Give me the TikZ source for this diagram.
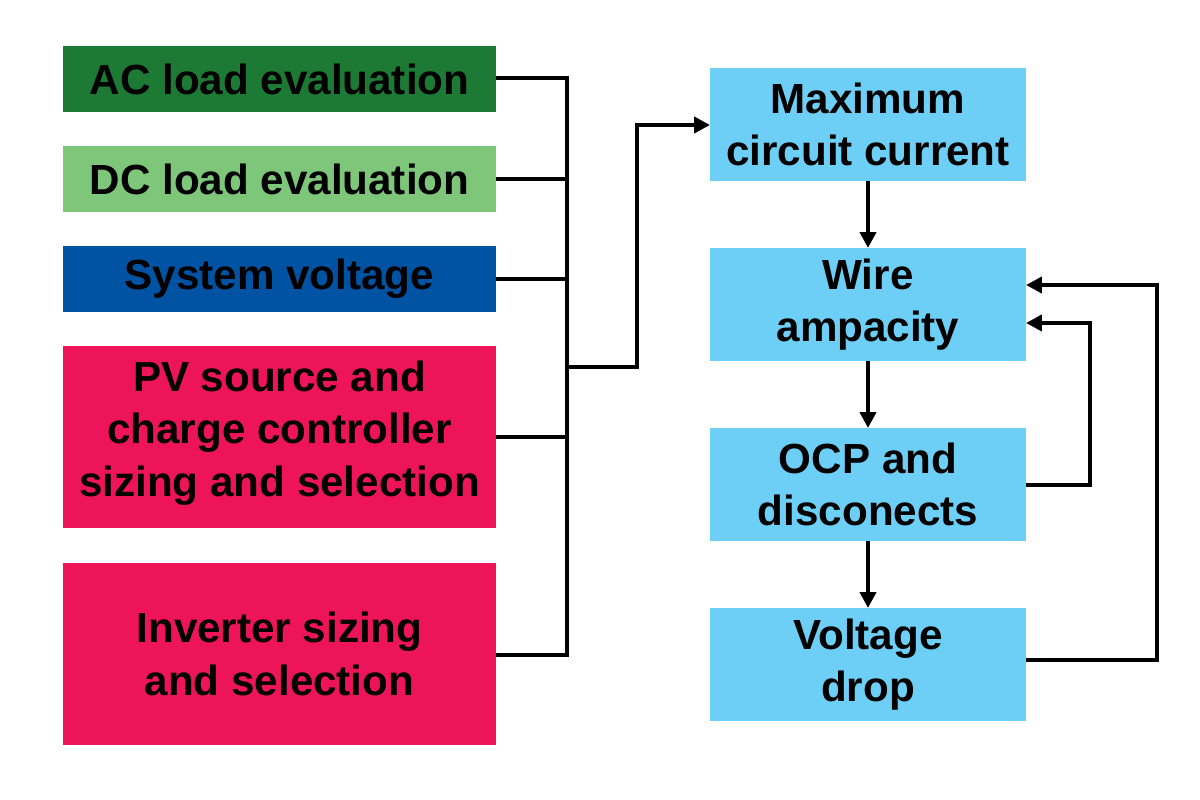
\documentclass[tikz,border=0pt]{standalone}
\usepackage{fontspec}
\setmainfont{Liberation Sans}
\usetikzlibrary{arrows.meta}
\definecolor{dg}{HTML}{1D7A34}
\definecolor{lg}{HTML}{7DC67A}
\definecolor{db}{HTML}{0052A2}
\definecolor{pk}{HTML}{EE1459}
\definecolor{lb}{HTML}{6DCFF6}
\begin{document}
\begin{tikzpicture}[x=0.02cm,y=-0.02cm,
  box/.style={draw=none,inner sep=0pt,align=center,font=\fontsize{24}{30}\selectfont\bfseries},
  ln/.style={line width=2.4pt},
  arr/.style={ln,-{Triangle[length=9pt,width=9pt]}}]
\useasboundingbox (0,0) rectangle (1200,800);
\fill[dg] (63,46) rectangle (496,112); \node[box] (ac) at (279.5,79) {AC load evaluation};
\fill[lg] (63,146) rectangle (496,212); \node[box] (dc) at (279.5,179) {DC load evaluation};
\fill[db] (63,246) rectangle (496,312); \node[box] (sv) at (279.5,279) {System voltage};
\fill[pk] (63,346) rectangle (496,528); \node[box] (pv) at (279.5,433) {PV source and\\charge controller\\sizing and selection};
\fill[pk] (63,563) rectangle (496,745); \node[box] (inv) at (279.5,654) {Inverter sizing\\and selection};
\fill[lb] (710,68) rectangle (1026,181); \node[box] (mc) at (868,124.5) {Maximum\\circuit current};
\fill[lb] (710,248) rectangle (1026,361); \node[box] (wa) at (868,304.5) {Wire\\ampacity};
\fill[lb] (710,428) rectangle (1026,541); \node[box] (ocp) at (868,484.5) {OCP and\\disconects};
\fill[lb] (710,608) rectangle (1026,721); \node[box] (vd) at (868,664.5) {Voltage\\drop};
\coordinate (b1) at (567,78); \coordinate (b2) at (567,655);
\draw[ln] (496,78) -- (567,78) -- (567,655) -- (496,655);
\draw[ln] (496,179) -- (567,179);
\draw[ln] (496,279) -- (567,279);
\draw[ln] (496,437) -- (567,437);
\draw[arr] (567,367) -- (637,367) -- (637,125) -- (710,125);
\draw[arr] (868,181) -- (868,248);
\draw[arr] (868,361) -- (868,428);
\draw[arr] (868,541) -- (868,608);
\draw[arr] (1026,485) -- (1090,485) -- (1090,323) -- (1026,323);
\draw[arr] (1026,660) -- (1157,660) -- (1157,285) -- (1026,285);
\end{tikzpicture}
\end{document}
